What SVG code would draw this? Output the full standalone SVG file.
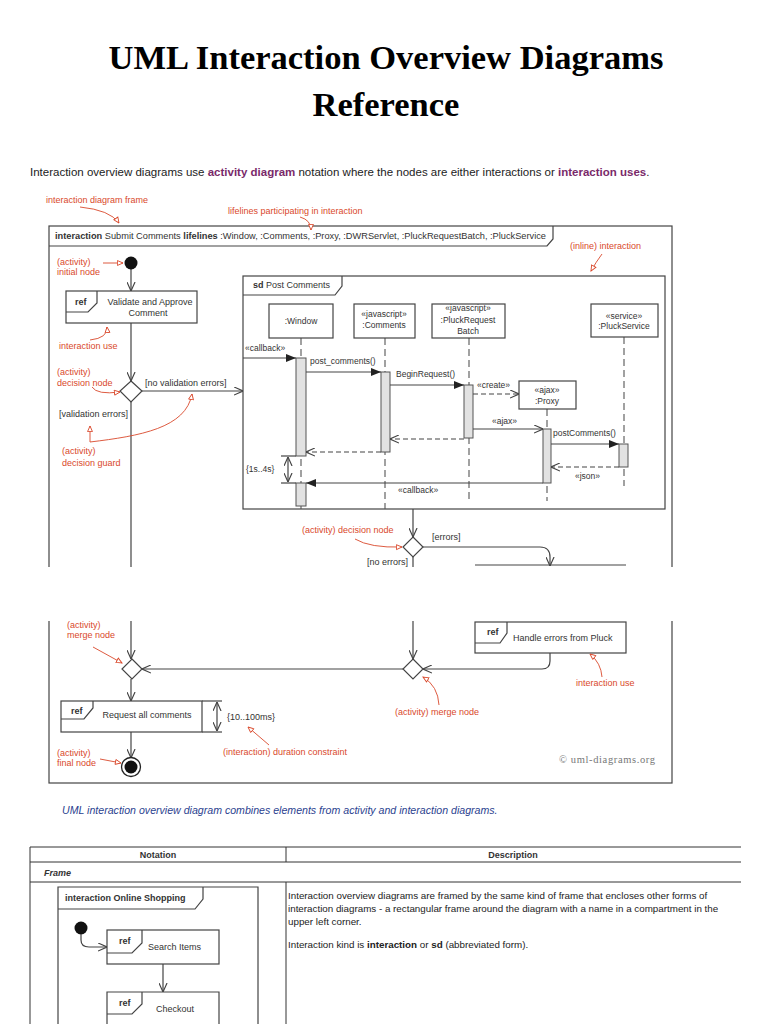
<svg xmlns="http://www.w3.org/2000/svg" width="768" height="1024" viewBox="0 0 768 1024">
<defs>
<style>
.t{font-family:"Liberation Sans",Arial,sans-serif;fill:#333;font-size:9px}
.s{font-family:"Liberation Sans",Arial,sans-serif;fill:#333;font-size:8.5px}
.b{font-weight:bold}
.r{font-family:"Liberation Sans",Arial,sans-serif;fill:#d9482b;font-size:9px}
.ln{fill:none;stroke:#444;stroke-width:1.2}
.box{fill:#fff;stroke:#444;stroke-width:1.2}
.act{fill:#e2e2e2;stroke:#555;stroke-width:1}
.ll{fill:none;stroke:#555;stroke-width:1.1;stroke-dasharray:7 4}
.dash{fill:none;stroke:#444;stroke-width:1.2;stroke-dasharray:5 3}
.ra{fill:none;stroke:#d9482b;stroke-width:0.9}
.tb{fill:none;stroke:#333;stroke-width:1}
</style>
<marker id="open" viewBox="0 0 10 10" refX="10" refY="5" markerWidth="9" markerHeight="9" markerUnits="userSpaceOnUse" orient="auto-start-reverse"><path d="M0,0.5 L10,5 L0,9.5" fill="none" stroke="#444" stroke-width="1.3"/></marker>
<marker id="fill" viewBox="0 0 10 8" refX="10" refY="4" markerWidth="10" markerHeight="8" markerUnits="userSpaceOnUse" orient="auto"><path d="M0,0 L10,4 L0,8 z" fill="#222"/></marker>
<marker id="red" viewBox="0 0 10 10" refX="9" refY="5" markerWidth="7" markerHeight="7" markerUnits="userSpaceOnUse" orient="auto"><path d="M1,1.5 L9,5 L1,8.5 z" fill="#fff" stroke="#d9482b" stroke-width="1.3"/></marker>
</defs>

<rect x="0" y="0" width="768" height="1024" fill="#fff"/>

<g id="title" font-family="'Liberation Serif',serif" font-weight="bold" font-size="34.5" fill="#000" text-anchor="middle">
<text x="386" y="69">UML Interaction Overview Diagrams</text>
<text x="386" y="116">Reference</text>
</g>

<text id="intro" x="30" y="176" font-family="'Liberation Sans',Arial,sans-serif" font-size="11.5" fill="#222">Interaction overview diagrams use <tspan font-weight="bold" fill="#7a2a6a">activity diagram</tspan> notation where the nodes are either interactions or <tspan font-weight="bold" fill="#7a2a6a">interaction uses</tspan>.</text>

<!-- Main frame -->
<g id="frame">
<rect x="49" y="226" width="623" height="557" class="box" fill="none"/>
<path d="M49,246 L547,246 L553,239 L553,226" class="ln"/>
<text x="55" y="239" class="t" textLength="491" lengthAdjust="spacingAndGlyphs"><tspan class="b">interaction</tspan> Submit Comments <tspan class="b">lifelines</tspan> :Window, :Comments, :Proxy, :DWRServlet, :PluckRequestBatch, :PluckService</text>
</g>

<!-- Connectors (activity flows) -->
<g id="connectors">
<line x1="131" y1="269" x2="131" y2="291" class="ln" marker-end="url(#open)"/>
<line x1="131" y1="323" x2="131" y2="381" class="ln" marker-end="url(#open)"/>
<line x1="142" y1="391" x2="243" y2="391" class="ln" marker-end="url(#open)"/>
<line x1="131" y1="402" x2="131" y2="659" class="ln" marker-end="url(#open)"/>
<line x1="413" y1="509" x2="413" y2="537" class="ln" marker-end="url(#open)"/>
<path d="M423,547 L540,547 Q550,547 550,557 L550,566" class="ln" marker-end="url(#open)"/>
<line x1="413" y1="557" x2="413" y2="659" class="ln" marker-end="url(#open)"/>
<path d="M550,653 L550,661 Q550,669 542,669 L423,669" class="ln" marker-end="url(#open)"/>
<line x1="404" y1="669" x2="142" y2="669" class="ln" marker-end="url(#open)"/>
<line x1="131" y1="679" x2="131" y2="701" class="ln" marker-end="url(#open)"/>
<line x1="131" y1="732" x2="131" y2="758" class="ln" marker-end="url(#open)"/>
</g>

<g id="initial"><circle cx="131" cy="263" r="6.5" fill="#111"/></g>

<g id="validate">
<rect x="66" y="291" width="131" height="32" class="box"/>
<path d="M66,312 L88,312 L97,303 L97,291" class="ln"/>
<text x="75" y="305" class="t b">ref</text>
<text x="150" y="305" class="t" text-anchor="middle">Validate and Approve</text>
<text x="148" y="316" class="t" text-anchor="middle">Comment</text>
</g>

<g id="decision1">
<path d="M131,381 L142,391 L131,402 L120,391 Z" class="box"/>
<text x="145" y="386" class="t">[no validation errors]</text>
<text x="59" y="417" class="t">[validation errors]</text>
</g>

<!-- Inline interaction -->
<g id="sd">
<rect x="243" y="276" width="422" height="233" class="box" fill="none"/>
<path d="M243,295 L335,295 L342,286 L342,276" class="ln"/>
<text x="253" y="288" class="t"><tspan class="b">sd</tspan> Post Comments</text>

<g id="ll-window">
<line x1="301" y1="338" x2="301" y2="509" class="ll"/>
<rect x="269" y="304" width="64" height="34" class="box"/>
<text x="301" y="324" class="s" text-anchor="middle">:Window</text>
</g>
<g id="ll-comments">
<line x1="385" y1="338" x2="385" y2="509" class="ll"/>
<rect x="354" y="304" width="61" height="34" class="box"/>
<text x="384" y="317" class="s" text-anchor="middle">«javascript»</text>
<text x="384" y="328" class="s" text-anchor="middle">:Comments</text>
</g>
<g id="ll-batch">
<line x1="469" y1="338" x2="469" y2="501" class="ll"/>
<rect x="432" y="304" width="73" height="34" class="box"/>
<text x="468" y="311" class="s" text-anchor="middle" font-size="7.5">«javascript»</text>
<text x="468" y="323" class="s" text-anchor="middle">:PluckRequest</text>
<text x="468" y="334" class="s" text-anchor="middle">Batch</text>
</g>
<g id="ll-proxy">
<line x1="547" y1="409" x2="547" y2="501" class="ll"/>
<rect x="519" y="381" width="57" height="28" class="box"/>
<text x="547" y="393" class="s" text-anchor="middle" font-size="7">«ajax»</text>
<text x="547" y="404" class="s" text-anchor="middle">:Proxy</text>
</g>
<g id="ll-service">
<line x1="624" y1="337" x2="624" y2="486" class="ll"/>
<rect x="591" y="304" width="67" height="33" class="box"/>
<text x="624" y="319" class="s" text-anchor="middle">«service»</text>
<text x="624" y="329" class="s" text-anchor="middle">:PluckService</text>
</g>

<g id="activations">
<rect x="296" y="358" width="10" height="98" class="act"/>
<rect x="296" y="483" width="10" height="23" class="act"/>
<rect x="381" y="372" width="9" height="80" class="act"/>
<rect x="464" y="385" width="9" height="53" class="act" fill="#cfcfcf"/>
<rect x="543" y="429" width="8" height="54" class="act"/>
<rect x="619" y="444" width="9" height="23" class="act"/>
</g>

<g id="messages">
<line x1="243" y1="358" x2="296" y2="358" class="ln" marker-end="url(#fill)"/>
<text x="245" y="351" class="s">«callback»</text>
<line x1="306" y1="372" x2="381" y2="372" class="ln" marker-end="url(#fill)"/>
<text x="310" y="364" class="s">post_comments()</text>
<line x1="390" y1="385" x2="464" y2="385" class="ln" marker-end="url(#fill)"/>
<text x="396" y="377" class="s">BeginRequest()</text>
<line x1="473" y1="394" x2="519" y2="394" class="dash" marker-end="url(#open)"/>
<text x="477" y="388" class="s" font-size="8">«create»</text>
<line x1="473" y1="429" x2="543" y2="429" class="ln" marker-end="url(#open)"/>
<text x="492" y="424" class="s">«ajax»</text>
<line x1="551" y1="444" x2="619" y2="444" class="ln" marker-end="url(#fill)"/>
<text x="553" y="436" class="s">postComments()</text>
<line x1="619" y1="467" x2="551" y2="467" class="dash" marker-end="url(#open)"/>
<text x="575" y="479" class="s">«json»</text>
<line x1="464" y1="439" x2="390" y2="439" class="dash" marker-end="url(#open)"/>
<line x1="381" y1="452" x2="306" y2="452" class="dash" marker-end="url(#open)"/>
<line x1="543" y1="483" x2="306" y2="483" class="ln" marker-end="url(#fill)"/>
<text x="398" y="493" class="s">«callback»</text>
</g>

<g id="duration1">
<line x1="281" y1="456" x2="296" y2="456" class="ln"/>
<line x1="281" y1="483" x2="296" y2="483" class="ln"/>
<line x1="288" y1="457" x2="288" y2="482" class="ln" marker-start="url(#open)" marker-end="url(#open)"/>
<text x="246" y="472" class="s">{1s..4s}</text>
</g>
</g>

<g id="decision2">
<path d="M413,537 L423,547 L413,557 L403,547 Z" class="box"/>
<text x="432" y="540" class="t">[errors]</text>
<text x="367" y="565" class="t">[no errors]</text>
</g>

<g id="handle">
<line x1="475" y1="565" x2="626" y2="565" class="ln"/>
<rect x="475" y="622" width="151" height="31" class="box"/>
<path d="M475,643 L500,643 L507,633 L507,622" class="ln"/>
<text x="487" y="635" class="t b">ref</text>
<text x="513" y="641" class="t">Handle errors from Pluck</text>
</g>

<g id="merge2"><path d="M413,659 L423,669 L413,679 L403,669 Z" class="box"/></g>
<g id="merge1"><path d="M132,659 L142,669 L132,679 L122,669 Z" class="box"/></g>

<g id="request">
<rect x="61" y="701" width="141" height="31" class="box"/>
<path d="M61,719 L84,719 L93,708 L93,701" class="ln"/>
<text x="71" y="714" class="t b">ref</text>
<text x="147" y="718" class="t" text-anchor="middle">Request all comments</text>
<line x1="202" y1="701" x2="222" y2="701" class="ln"/>
<line x1="202" y1="732" x2="222" y2="732" class="ln"/>
<line x1="217" y1="702" x2="217" y2="731" class="ln" marker-start="url(#open)" marker-end="url(#open)"/>
<text x="227" y="720" class="t">{10..100ms}</text>
</g>

<g id="final">
<circle cx="131" cy="767" r="9.5" fill="#fff" stroke="#222" stroke-width="1.3"/>
<circle cx="131" cy="767" r="6.5" fill="#111"/>
</g>

<text x="559" y="763" font-family="'Liberation Serif',serif" font-size="10.5" fill="#777" textLength="96" lengthAdjust="spacing">© uml-diagrams.org</text>

<!-- Annotations -->
<g id="annotations">
<text x="46" y="203" class="r">interaction diagram frame</text>
<path d="M80,207 Q110,210 119,223" class="ra" marker-end="url(#red)"/>
<text x="228" y="214" class="r">lifelines participating in interaction</text>
<path d="M300,217 Q311,220 311,230" class="ra" marker-end="url(#red)"/>
<text x="570" y="249" class="r">(inline) interaction</text>
<path d="M602,254 Q596,262 591,271" class="ra" marker-end="url(#red)"/>
<text x="57" y="265" class="r">(activity)</text>
<text x="57" y="275" class="r">initial node</text>
<line x1="103" y1="263" x2="123" y2="263" class="ra" marker-end="url(#red)"/>
<text x="59" y="349" class="r">interaction use</text>
<path d="M90,340 Q108,338 107,327" class="ra" marker-end="url(#red)"/>
<text x="57" y="375" class="r">(activity)</text>
<text x="57" y="386" class="r">decision node</text>
<path d="M92,387 Q97,395 120,392" class="ra" marker-end="url(#red)"/>
<path d="M90,442 L90,426" class="ra" marker-end="url(#red)"/>
<path d="M90,442 C140,436 186,428 192,394" class="ra" marker-end="url(#red)"/>
<text x="62" y="454" class="r">(activity)</text>
<text x="62" y="466" class="r">decision guard</text>
<text x="302" y="533" class="r">(activity) decision node</text>
<path d="M355,539 Q370,548 402,547" class="ra" marker-end="url(#red)"/>
<text x="67" y="628" class="r">(activity)</text>
<text x="67" y="638" class="r">merge node</text>
<line x1="93" y1="647" x2="122" y2="663" class="ra" marker-end="url(#red)"/>
<text x="576" y="686" class="r">interaction use</text>
<path d="M602,677 Q601,663 590,654" class="ra" marker-end="url(#red)"/>
<text x="395" y="715" class="r">(activity) merge node</text>
<path d="M439,705 Q438,686 423,677" class="ra" marker-end="url(#red)"/>
<text x="223" y="755" class="r">(interaction) duration constraint</text>
<line x1="269" y1="745" x2="248" y2="727" class="ra" marker-end="url(#red)"/>
<text x="57" y="756" class="r">(activity)</text>
<text x="57" y="766" class="r">final node</text>
<line x1="100" y1="759" x2="121" y2="763" class="ra" marker-end="url(#red)"/>
</g>

<!-- image cut band -->
<rect x="0" y="567" width="768" height="54" fill="#fff"/>

<text id="caption" x="62" y="814" font-family="'Liberation Sans',Arial,sans-serif" font-style="italic" font-size="10.6" fill="#2b3f8f">UML interaction overview diagram combines elements from activity and interaction diagrams.</text>

<!-- Table -->
<g id="table">
<path d="M30,847 L741,847 M30,862 L741,862 M30,882 L741,882 M30,847 L30,1024 M286,847 L286,862 M286,882 L286,1024" class="tb"/>
<text x="158" y="858" class="t b" font-size="10" text-anchor="middle" fill="#222">Notation</text>
<text x="513" y="858" class="t b" font-size="10" text-anchor="middle" fill="#222">Description</text>
<text x="44" y="876" class="t b" font-size="10" font-style="italic" fill="#222">Frame</text>
<g font-family="'Liberation Sans',Arial,sans-serif" font-size="9.8" fill="#222">
<text x="288" y="899">Interaction overview diagrams are framed by the same kind of frame that encloses other forms of</text>
<text x="288" y="912">interaction diagrams - a rectangular frame around the diagram with a name in a compartment in the</text>
<text x="288" y="925">upper left corner.</text>
<text x="288" y="948">Interaction kind is <tspan font-weight="bold">interaction</tspan> or <tspan font-weight="bold">sd</tspan> (abbreviated form).</text>
</g>
</g>

<g id="mini-frame">
<path d="M58,1030 L58,887 L258,887 L258,1030" class="box" fill="none"/>
<path d="M58,909 L195,909 L203,899 L203,887" class="ln"/>
<text x="65" y="901" class="t b">interaction Online Shopping</text>
</g>
<g id="mini-initial"><circle cx="81" cy="928" r="6.5" fill="#111"/></g>
<g id="mini-connectors">
<path d="M81,934 L81,940 Q81,947 89,947 L107,947" class="ln" marker-end="url(#open)"/>
<line x1="163" y1="964" x2="163" y2="992" class="ln" marker-end="url(#open)"/>
</g>
<g id="mini-search">
<rect x="107" y="930" width="112" height="34" class="box"/>
<path d="M107,953 L132,953 L142,943 L142,930" class="ln"/>
<text x="119" y="944" class="t b">ref</text>
<text x="148" y="950" class="t">Search Items</text>
</g>
<g id="mini-checkout">
<path d="M107,1030 L107,992 L219,992 L219,1030" class="box" fill="none"/>
<path d="M107,1014 L132,1014 L142,1004 L142,992" class="ln"/>
<text x="119" y="1006" class="t b">ref</text>
<text x="156" y="1012" class="t">Checkout</text>
</g>
</svg>
